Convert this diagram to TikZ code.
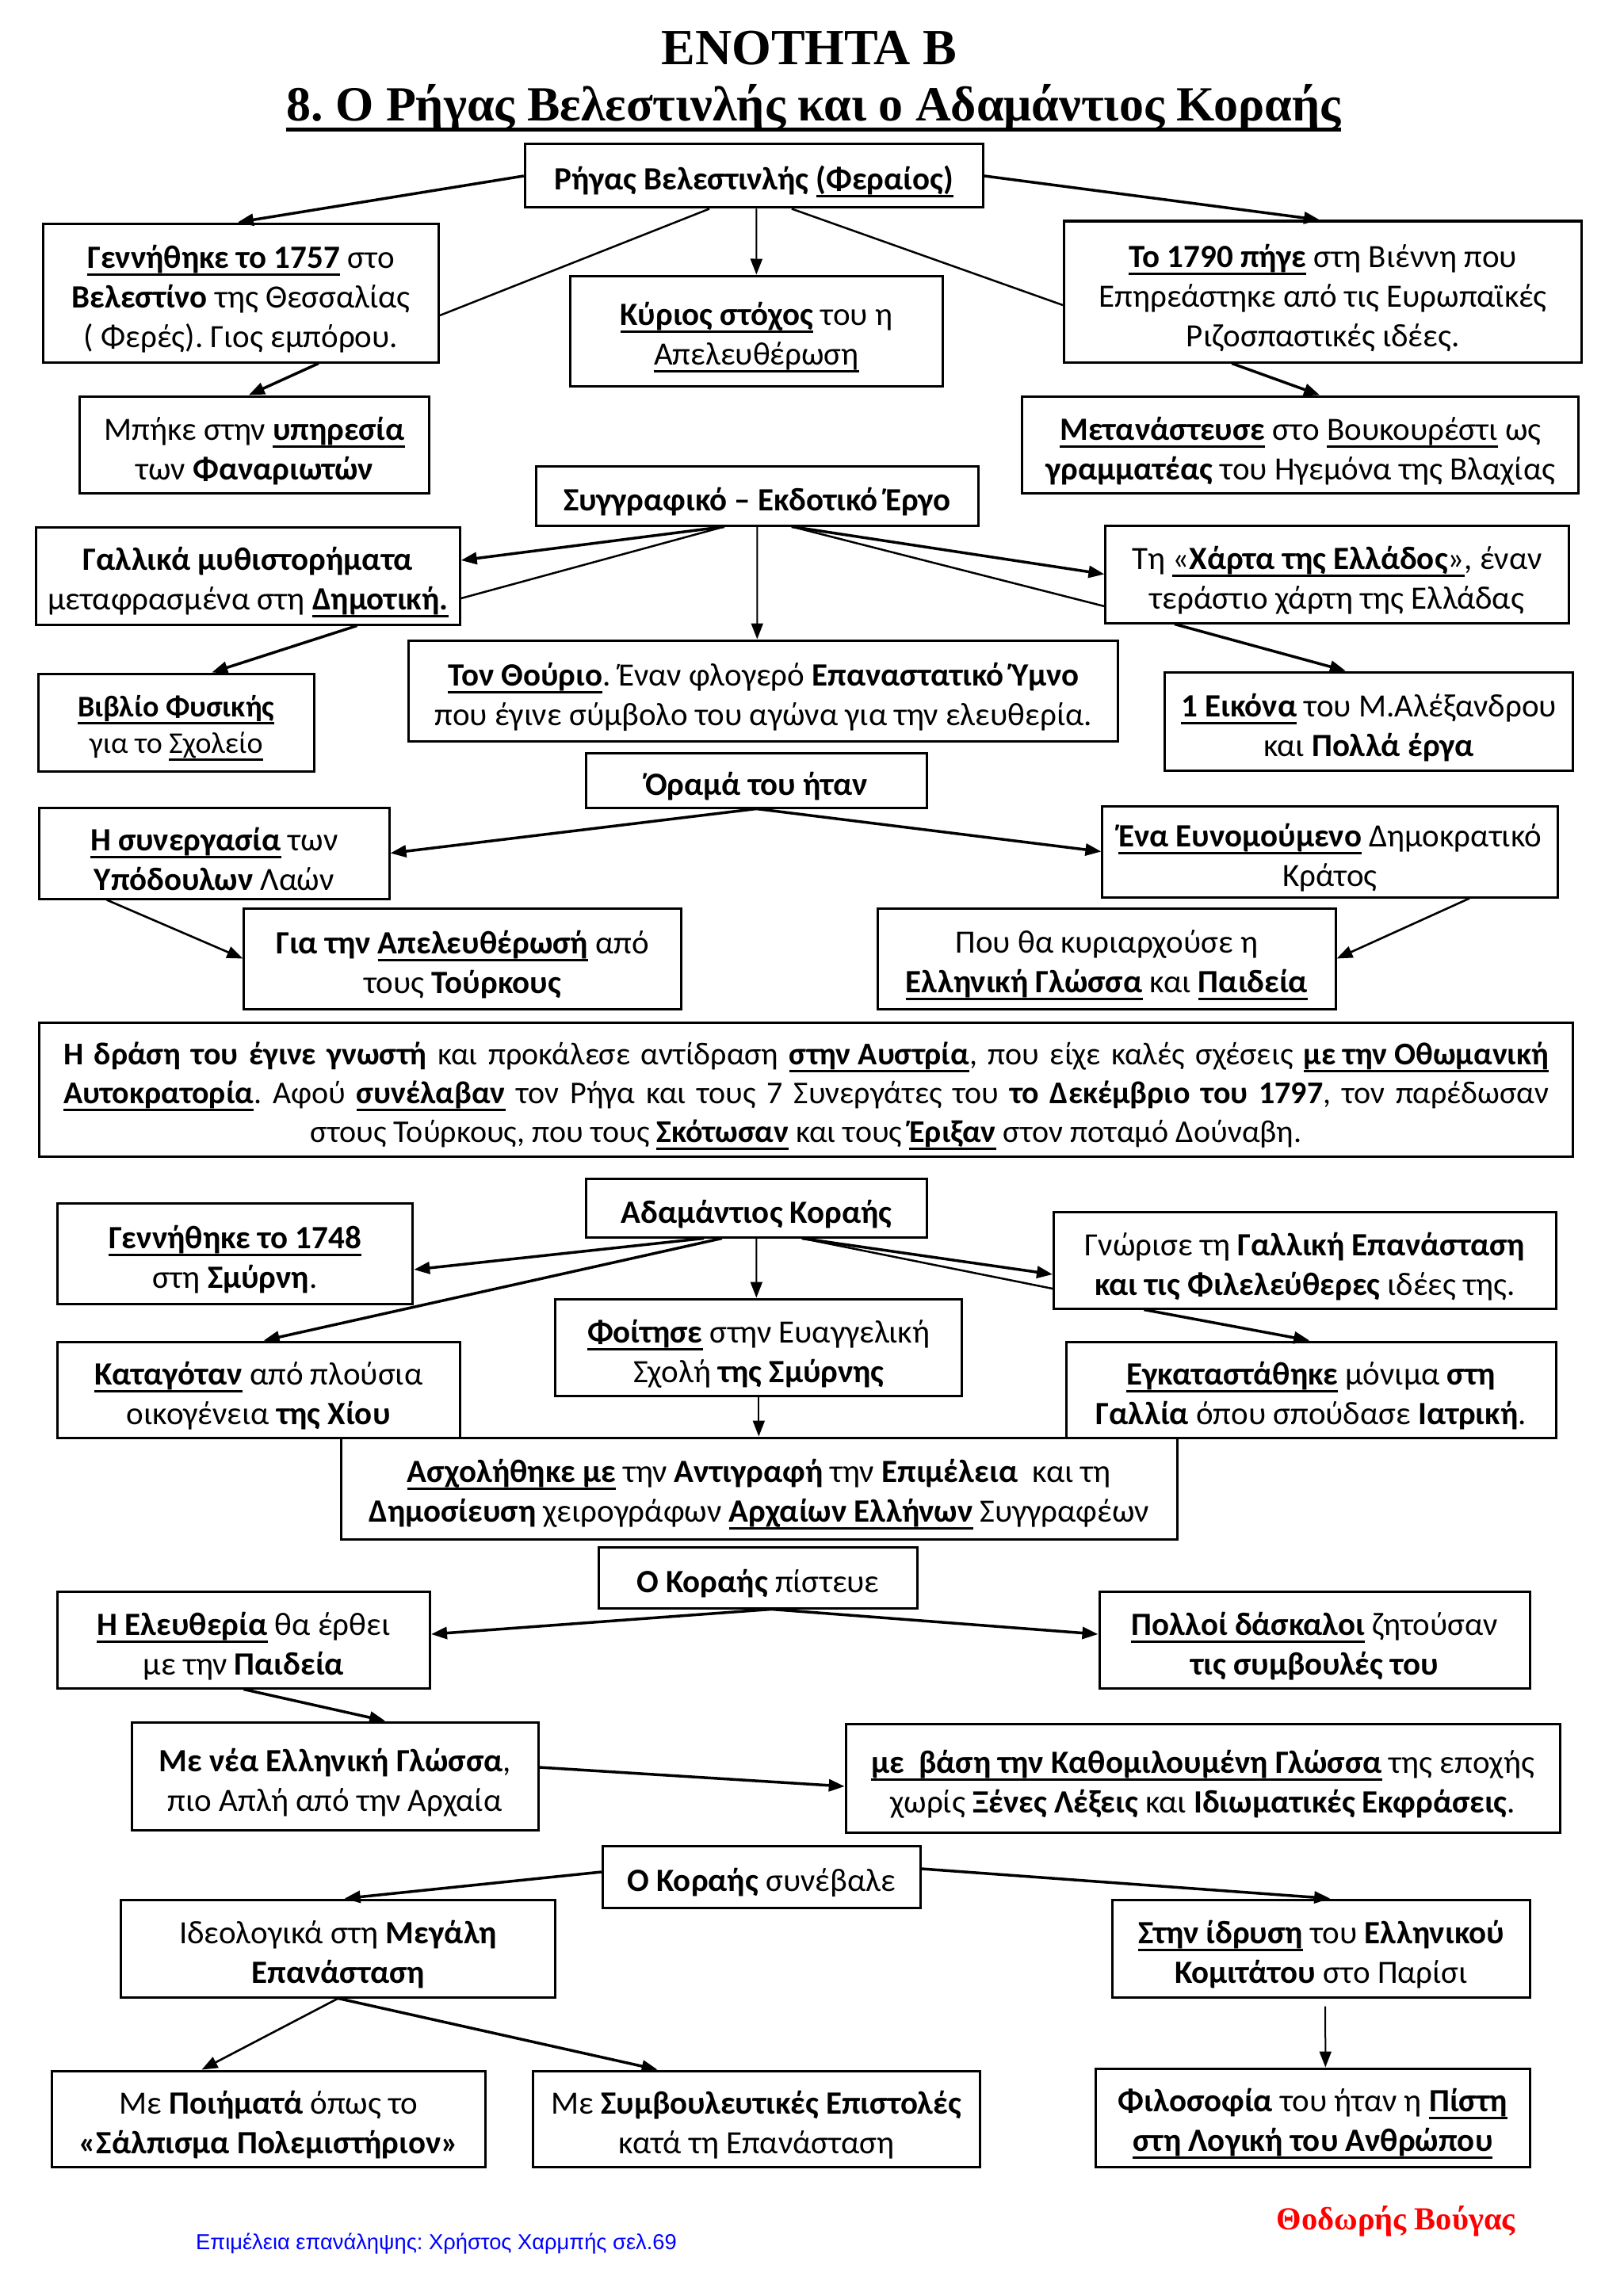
\documentclass[tikz,border=0pt]{standalone}
\usepackage{fontspec}
\setmainfont{Carlito}
\newfontfamily\titlefont{Liberation Serif}
\newfontfamily\footfont{Liberation Sans}
\usetikzlibrary{arrows.meta,calc}
\newsavebox\ulbox
\newlength\ULd
\setlength\ULd{9.5pt}
\newcommand\ULt{3pt}
\newcommand\uln[1]{\sbox\ulbox{#1}\rlap{\rule[-\ULd]{\wd\ulbox}{\ULt}}\usebox\ulbox}
\newcommand\fs{\rule{0pt}{45pt}}
\frenchspacing
\begin{document}
\frenchspacing
\begin{tikzpicture}[x=0.99pt,y=-1pt,
  box/.style 2 args={draw, line width=3pt, inner sep=0pt, align=center, font=\fontsize{41}{50}\selectfont, minimum width={0.99*#1pt}, minimum height={#2pt}},
  arr/.style={-{Triangle[length=20pt,width=15pt]}, line width=3.5pt},
  marr/.style={-{Triangle[length=20pt,width=15pt]}, line width=2.6pt},
  tarr/.style={-{Triangle[length=20pt,width=15pt]}, line width=2pt},
  ln/.style={line width=2.5pt}]
\fill[white] (0,0) rectangle (2068.69,2887);
\useasboundingbox (0,0) rectangle (2068.69,2887);

% titles
\node[anchor=base, inner sep=0pt, font=\titlefont\bfseries\fontsize{64}{74}\selectfont] (t1) at (1031,82) {ΕΝΟΤΗΤΑ Β};
\node[anchor=base, inner sep=0pt, font=\titlefont\bfseries\fontsize{62}{72}\selectfont] (t2) at (1037,153) {{\setlength\ULd{13pt}\renewcommand\ULt{4.5pt}\uln{8. Ο Ρήγας Βελεστινλής και ο Αδαμάντιος Κοραής}}};

% Rigas part
\node[box={584}{80}] (A) at (961,222) {\fs\textbf{Ρήγας Βελεστινλής \uln{(Φεραίος)}}};
\node[box={504}{175}] (B) at (307,369.5) {\fs\textbf{\uln{Γεννήθηκε το 1757}} στο\\ \textbf{Βελεστίνο} της Θεσσαλίας\\ ( Φερές). Γιος εμπόρου.};
\node[box={474}{139}] (C) at (964,417.5) {\fs\textbf{\uln{Κύριος στόχος}} του η\\ \uln{Απελευθέρωση}};
\node[box={660}{178}] (D) at (1686,368) {\fs\textbf{\uln{Το 1790 πήγε}} στη Βιέννη που\\ Επηρεάστηκε από τις Ευρωπαϊκές\\ Ριζοσπαστικές ιδέες.};
\node[box={445}{122}] (E) at (324.5,561) {\fs Μπήκε στην \textbf{\uln{υπηρεσία}}\\ των \textbf{Φαναριωτών}};
\node[box={709}{122}] (F) at (1657.5,561) {\fs\textbf{\uln{Μετανάστευσε}} στο \uln{Βουκουρέστι} ως\\ \textbf{γραμματέας} του Ηγεμόνα της Βλαχίας};
\node[box={564}{75}] (G) at (965,625.5) {\fs\textbf{Συγγραφικό – Εκδοτικό Έργο}};
\node[box={540}{123}] (H) at (316,726.5) {\fs\textbf{Γαλλικά μυθιστορήματα}\\ μεταφρασμένα στη \textbf{\uln{Δημοτική.}}};
\node[box={590}{123}] (I) at (1704,724.5) {\fs Τη \uln{«\textbf{Χάρτα της Ελλάδος}»}, έναν\\ τεράστιο χάρτη της Ελλάδας};
\node[box={904}{127}] (J) at (973,871.5) {\fs\textbf{\uln{Τον Θούριο}}. Έναν φλογερό \textbf{Επαναστατικό Ύμνο}\\ που έγινε σύμβολο του αγώνα για την ελευθερία.};
\node[box={351}{123}, font=\fontsize{38}{46}\selectfont] (K) at (224.5,911.5) {\rule{0pt}{42pt}\textbf{\uln{Βιβλίο Φυσικής}}\\ για το \uln{Σχολείο}};
\node[box={521}{124}] (L) at (1744.5,910) {\fs\textbf{\uln{1 Εικόνα}} του Μ.Αλέξανδρου\\ και \textbf{Πολλά έργα}};
\node[box={434}{69}] (O) at (964,984.5) {\fs\textbf{Όραμά του ήταν}};
\node[box={446}{115}] (P) at (273,1076.5) {\fs\textbf{\uln{Η συνεργασία}} των\\ \textbf{Υπόδουλων} Λαών};
\node[box={580}{115}] (Q) at (1695,1074.5) {\fs\textbf{\uln{Ένα Ευνομούμενο}} Δημοκρατικό\\ Κράτος};
\node[box={557}{127}] (R) at (589.5,1209.5) {\fs\textbf{Για την \uln{Απελευθέρωσή}} από\\ τους \textbf{Τούρκους}};
\node[box={583}{127}] (S) at (1410.5,1209.5) {\fs Που θα κυριαρχούσε η\\ \textbf{\uln{Ελληνική Γλώσσα}} και \textbf{\uln{Παιδεία}}};
\node[box={1955}{169}, font=\fontsize{40}{49}\selectfont] (T) at (1027.5,1374.5) {\makebox[1874pt][s]{\fs\textbf{Η δράση του έγινε γνωστή} και προκάλεσε αντίδραση \textbf{\uln{στην Αυστρία}}, που είχε καλές σχέσεις \textbf{\uln{με την Οθωμανική}}}\\ \makebox[1874pt][s]{\textbf{\uln{Αυτοκρατορία}}. Αφού \textbf{\uln{συνέλαβαν}} τον Ρήγα και τους 7 Συνεργάτες του \textbf{το Δεκέμβριο του 1797}, τον παρέδωσαν}\\ στους Τούρκους, που τους \textbf{\uln{Σκότωσαν}} και τους \textbf{\uln{Έριξαν}} στον ποταμό Δούναβη.};

% Korais part
\node[box={434}{74}] (U) at (964,1524) {\fs\textbf{Αδαμάντιος Κοραής}};
\node[box={453}{127}] (V) at (299.5,1581.5) {\fs\textbf{\uln{Γεννήθηκε το 1748}}\\ στη \textbf{Σμύρνη}.};
\node[box={640}{122}] (W) at (1663,1590) {\fs Γνώρισε τη \textbf{Γαλλική Επανάσταση}\\ \textbf{και τις Φιλελεύθερες} ιδέες της.};
\node[box={513}{121}] (X) at (329.5,1753.5) {\fs\textbf{\uln{Καταγόταν}} από πλούσια\\ οικογένεια \textbf{της Χίου}};
\node[box={518}{122}] (Y) at (967,1700) {\fs\textbf{\uln{Φοίτησε}} στην Ευαγγελική\\ Σχολή \textbf{της Σμύρνης}};
\node[box={624}{121}] (Z) at (1671,1753.5) {\fs\textbf{\uln{Εγκαταστάθηκε}} μόνιμα \textbf{στη}\\ \textbf{Γαλλία} όπου σπούδασε \textbf{Ιατρική}.};
\node[box={1065}{128}] (AA) at (967.5,1878) {\fs\textbf{\uln{Ασχολήθηκε με}} την \textbf{Αντιγραφή} την \textbf{Επιμέλεια}\ \ και τη\\ \textbf{Δημοσίευση} χειρογράφων \textbf{\uln{Αρχαίων Ελλήνων}} Συγγραφέων};
\node[box={406}{77}] (AB) at (966,1990.5) {\fs\textbf{Ο Κοραής} πίστευε};
\node[box={475}{122}] (AC) at (310.5,2069) {\fs\textbf{\uln{Η Ελευθερία}} θα έρθει\\ με την \textbf{Παιδεία}};
\node[box={549}{122}] (AD) at (1675.5,2069) {\fs\textbf{\uln{Πολλοί δάσκαλοι}} ζητούσαν\\ \textbf{τις συμβουλές του}};
\node[box={518}{136}] (AE) at (427,2241) {\fs\textbf{Με νέα Ελληνική Γλώσσα},\\ πιο Απλή από την Αρχαία};
\node[box={910}{137}] (AF) at (1533,2243.5) {\fs\textbf{\uln{με\ \ βάση την Καθομιλουμένη Γλώσσα}} της εποχής\\ χωρίς \textbf{Ξένες Λέξεις} και \textbf{Ιδιωματικές Εκφράσεις}.};
\node[box={405}{78}] (AG) at (970.5,2368) {\fs\textbf{Ο Κοραής} συνέβαλε};
\node[box={554}{123}] (AH) at (431,2458.5) {\fs Ιδεολογικά στη \textbf{Μεγάλη}\\ \textbf{Επανάσταση}};
\node[box={532}{123}] (AI) at (1684,2458.5) {\fs\textbf{\uln{Στην ίδρυση}} του \textbf{Ελληνικού}\\ \textbf{Κομιτάτου} στο Παρίσι};
\node[box={553}{121}] (AJ) at (342.5,2673.5) {\fs Με \textbf{Ποιήματά} όπως το\\ \textbf{«Σάλπισμα Πολεμιστήριον»}};
\node[box={570}{121}] (AK) at (964,2673.5) {\fs Με \textbf{Συμβουλευτικές Επιστολές}\\ κατά τη Επανάσταση};
\node[box={554}{124}] (AL) at (1673,2672) {\fs\textbf{Φιλοσοφία} του ήταν η \textbf{\uln{Πίστη}}\\ \textbf{\uln{στη Λογική του Ανθρώπου}}};

% footer
\node[anchor=base west, inner sep=0pt, text=blue, font=\footfont\fontsize{27.3}{32}\selectfont] (ed) at (249.5,2838) {Επιμέλεια επανάληψης: Χρήστος Χαρμπής σελ.69};
\node[anchor=base, inner sep=0pt, text=red, font=\titlefont\bfseries\fontsize{40.5}{46}\selectfont] (au) at (1779,2813) {Θοδωρής Βούγας};

% connectors
\draw[arr] (A.west) -- ([xshift=-4pt]B.north);
\draw[arr] (A.east) -- ([xshift=-4pt]D.north);
\draw[tarr] ([xshift=3pt]A.south) -- (C.north);
\draw[ln] ([xshift=-56.4pt]A.south) -- ([yshift=-28.5pt]B.east);
\draw[ln] ([xshift=47.5pt]A.south) -- ([yshift=-17pt]D.west);
\draw[arr] ([xshift=98pt]B.south) -- ([xshift=-7.4pt]E.north);
\draw[arr] ([xshift=-115pt]D.south) -- ([xshift=24.2pt]F.north);
\draw[arr] ([xshift=-41.5pt]G.south) -- ([yshift=19.5pt]H.east);
\draw[ln] ([xshift=-41.5pt]G.south) -- ([yshift=-28.5pt]H.east);
\draw[tarr] (G.south) -- ([xshift=-8pt]J.north);
\draw[arr] ([xshift=43.5pt]G.south) -- (I.west);
\draw[ln] ([xshift=43.5pt]G.south) -- ([yshift=-40.5pt]I.west);
\draw[arr] ([xshift=137.6pt]H.south) -- ([xshift=45pt]K.north);
\draw[arr] ([xshift=-205pt]I.south) -- ([xshift=-29.2pt]L.north);
\draw[arr] (O.south) -- (P.east);
\draw[arr] (O.south) -- (Q.west);
\draw[marr] ([xshift=-135.6pt]P.south) -- (R.west);
\draw[marr] ([xshift=176pt]Q.south) -- (S.east);
\draw[arr] ([xshift=-66.3pt]U.south) -- ([yshift=-20.5pt]V.east);
\draw[arr] ([xshift=-43.5pt]U.south) -- ([xshift=6.4pt]X.north);
\draw[tarr] (U.south) -- ([xshift=-3pt]Y.north);
\draw[arr] ([xshift=57.4pt]U.south) -- ([yshift=-18pt]W.west);
\draw[ln] ([xshift=57.4pt]U.south) -- ([yshift=-36pt]W.west);
\draw[arr] ([xshift=-203pt]W.south) -- ([xshift=-2pt]Z.north);
\draw[tarr] (Y.south) -- (Y.south |- AA.north);
\draw[arr] ([xshift=16.8pt]AB.south) -- ([yshift=7pt]AC.east);
\draw[arr] ([xshift=16.8pt]AB.south) -- ([yshift=7pt]AD.west);
\draw[arr] (AC.south) -- ([xshift=63.4pt]AE.north);
\draw[arr] ([yshift=11pt]AE.east) -- ([yshift=-10.5pt]AF.west);
\draw[arr] ([yshift=6pt]AG.west) -- ([xshift=8pt]AH.north);
\draw[arr] ([yshift=10pt]AG.east) -- ([xshift=11pt]AI.north);
\draw[marr] (AH.south) -- ([xshift=-84.6pt]AJ.north);
\draw[arr] (AH.south) -- ([xshift=-124.7pt]AK.north);
\draw[tarr] ([xshift=5pt,yshift=-10pt]AI.south) -- ([xshift=16pt]AL.north);
\end{tikzpicture}
\end{document}
